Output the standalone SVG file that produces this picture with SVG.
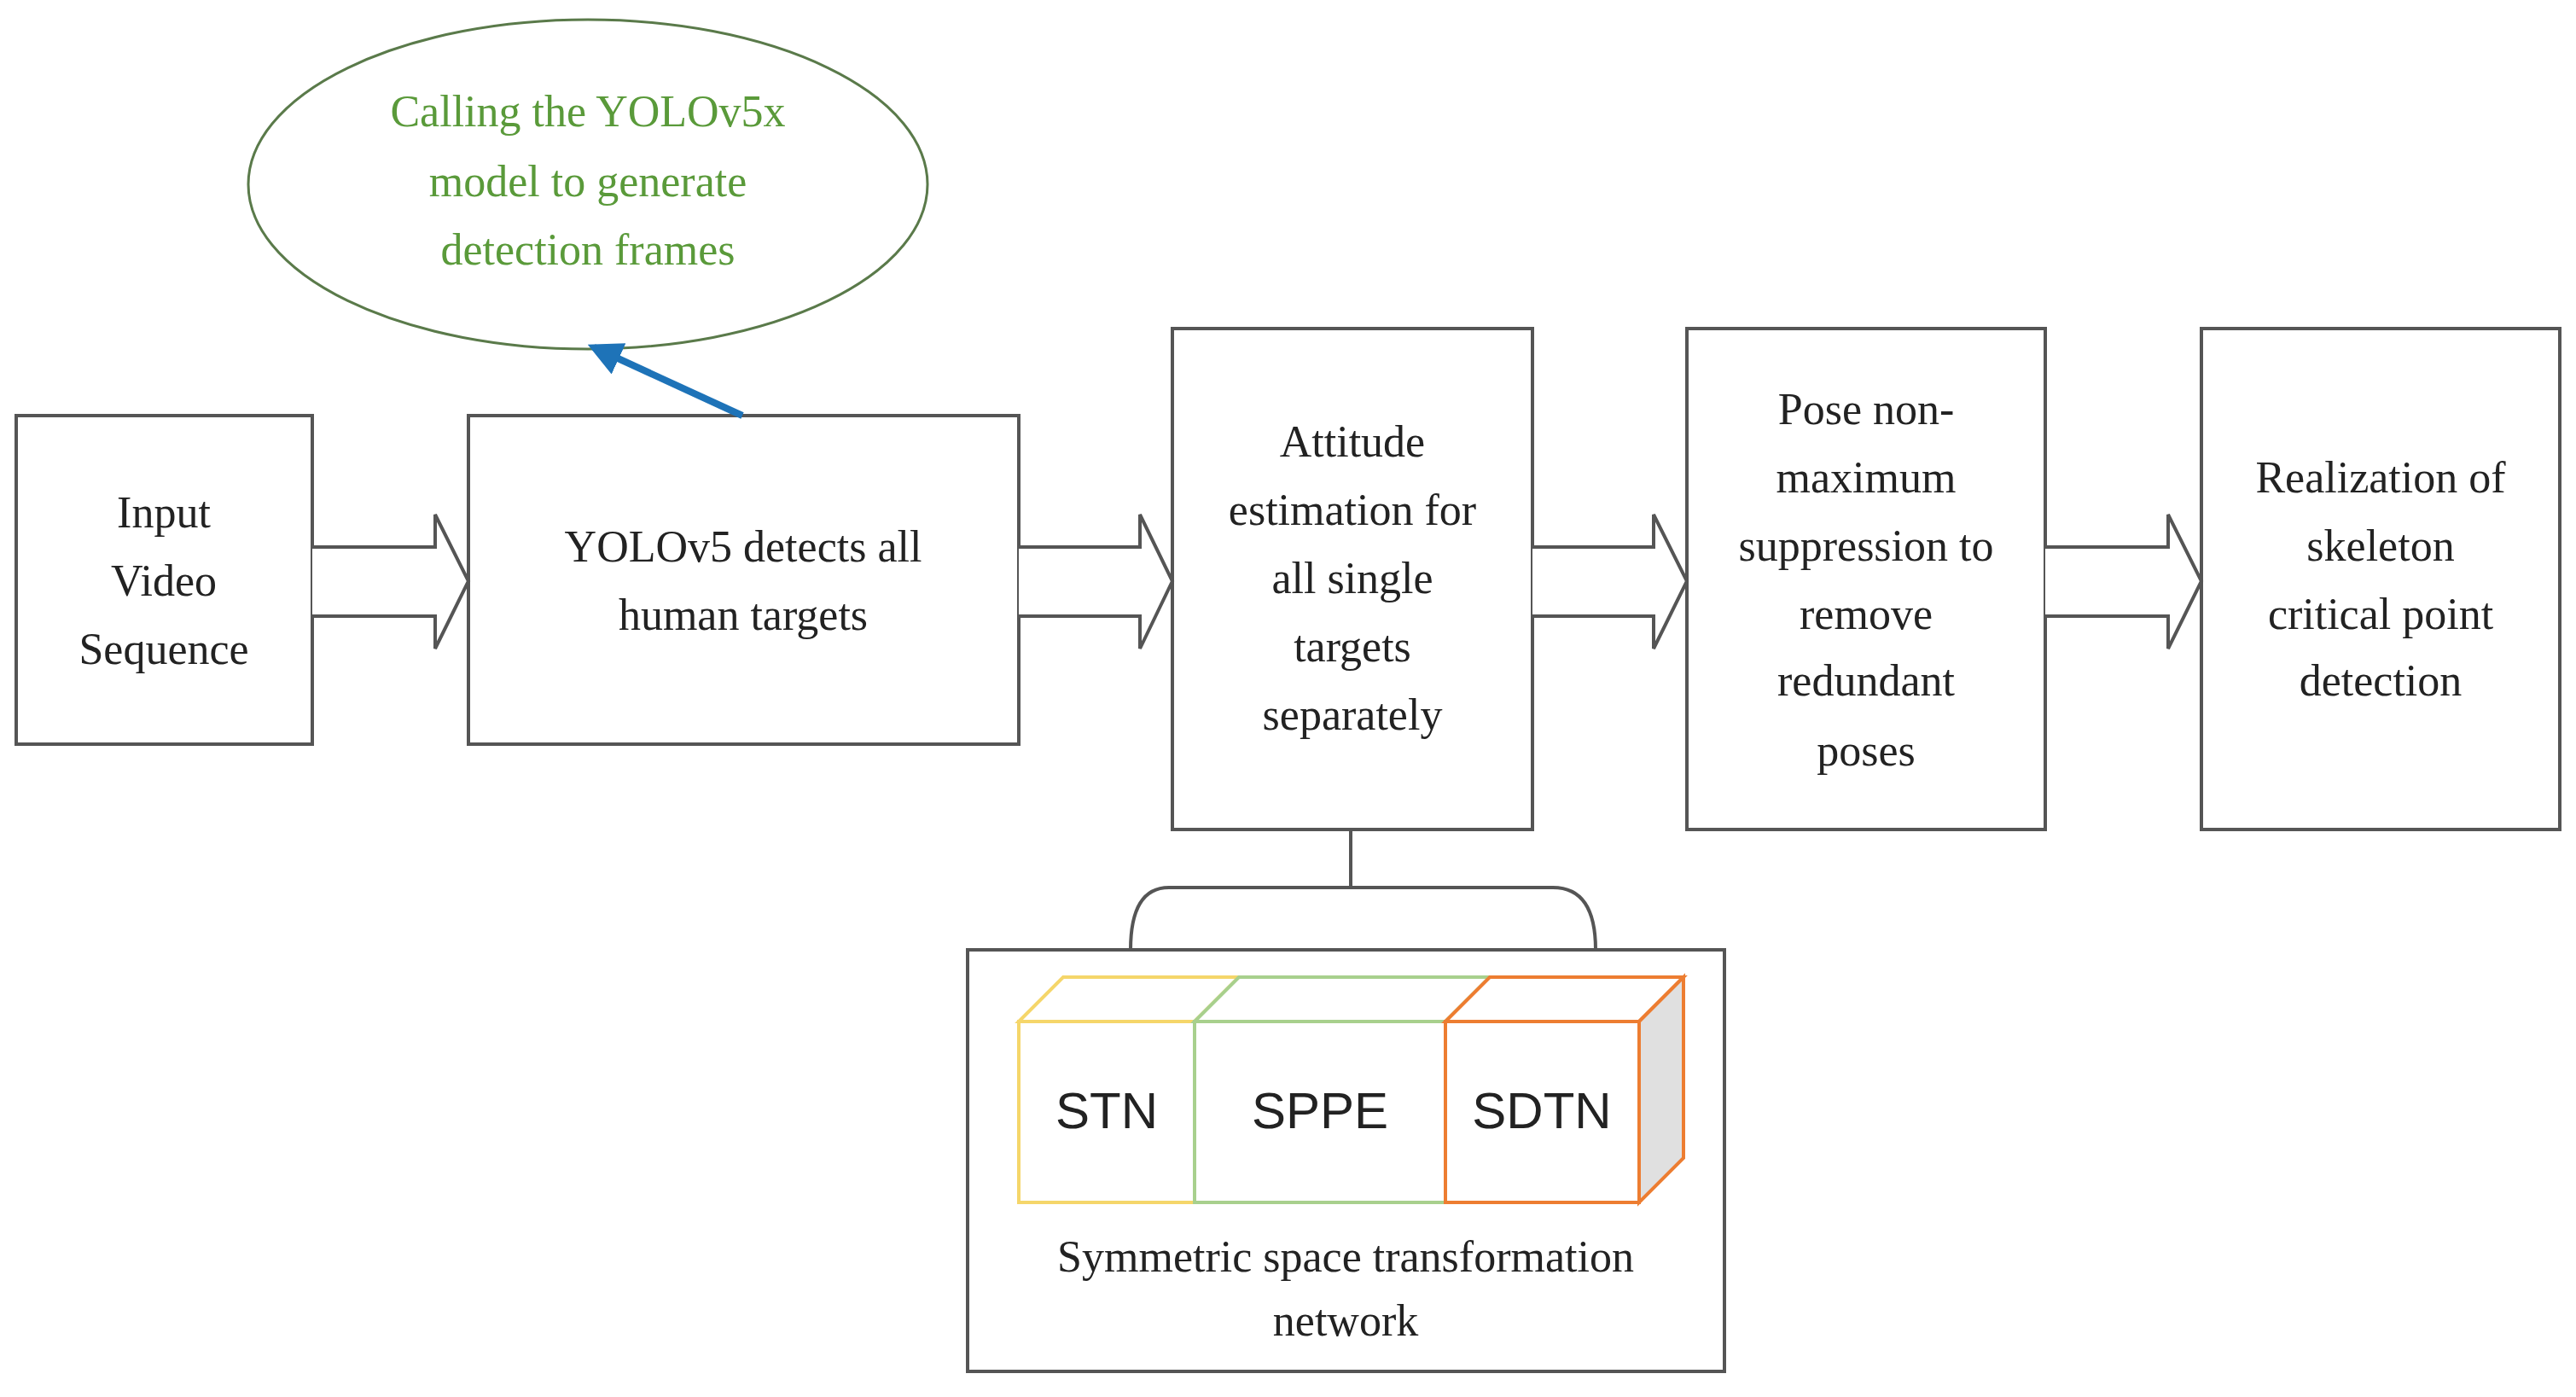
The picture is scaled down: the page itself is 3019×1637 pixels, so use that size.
<svg xmlns="http://www.w3.org/2000/svg" width="3019" height="1637" viewBox="0 0 3019 1637">
<style>
.box{fill:#fff;stroke:#555;stroke-width:4}
.t{font-family:"Liberation Serif",serif;font-size:52px;fill:#222;text-anchor:middle}
.g{font-family:"Liberation Serif",serif;font-size:52px;fill:#5a9a3a;text-anchor:middle}
.s{font-family:"Liberation Sans",sans-serif;font-size:60px;fill:#222;text-anchor:middle}
.ha{fill:#fff;stroke:#555;stroke-width:4}
</style>
<defs>
<marker id="bh" viewBox="0 0 10 10" refX="8" refY="5" markerWidth="5" markerHeight="5" orient="auto"><path d="M0,0L10,5L0,10z" fill="#1e73b8"/></marker>
</defs>
<rect width="3019" height="1637" fill="#fff"/>
<g id="ellipse"><ellipse cx="689" cy="216" rx="398" ry="193" fill="#fff" stroke="#5a7a4a" stroke-width="3"/>
<text class="g" x="689" y="148">Calling the YOLOv5x</text><text class="g" x="689" y="230">model to generate</text><text class="g" x="689" y="310">detection frames</text></g>
<g id="input"><rect class="box" x="19" y="487" width="347" height="385"/>
<text class="t" x="192" y="618">Input</text><text class="t" x="192" y="698">Video</text><text class="t" x="192" y="778">Sequence</text></g>
<g id="yolo"><rect class="box" x="549" y="487" width="645" height="385"/>
<text class="t" x="871" y="658">YOLOv5 detects all</text><text class="t" x="871" y="738">human targets</text></g>
<g id="attitude"><rect class="box" x="1374" y="385" width="422" height="587"/>
<text class="t" x="1585" y="535">Attitude</text><text class="t" x="1585" y="615">estimation for</text><text class="t" x="1585" y="695">all single</text><text class="t" x="1585" y="775">targets</text><text class="t" x="1585" y="855">separately</text></g>
<g id="pose"><rect class="box" x="1977" y="385" width="420" height="587"/>
<text class="t" x="2187" y="497">Pose non-</text><text class="t" x="2187" y="577">maximum</text><text class="t" x="2187" y="657">suppression to</text><text class="t" x="2187" y="737">remove</text><text class="t" x="2187" y="815">redundant</text><text class="t" x="2187" y="897">poses</text></g>
<g id="realization"><rect class="box" x="2580" y="385" width="420" height="587"/>
<text class="t" x="2790" y="577">Realization of</text><text class="t" x="2790" y="657">skeleton</text><text class="t" x="2790" y="737">critical point</text><text class="t" x="2790" y="815">detection</text></g>
<g id="sstn"><rect class="box" x="1134" y="1113" width="887" height="494"/>
<polygon points="1194,1197 1246,1145 1452,1145 1400,1197" fill="#fff" stroke="#f5d66a" stroke-width="4"/>
<rect x="1194" y="1197" width="206" height="212" fill="#fff" stroke="#f5d66a" stroke-width="4"/>
<polygon points="1400,1197 1452,1145 1746,1145 1694,1197" fill="#fff" stroke="#a8d08d" stroke-width="4"/>
<rect x="1400" y="1197" width="294" height="212" fill="#fff" stroke="#a8d08d" stroke-width="4"/>
<polygon points="1694,1197 1746,1145 1973,1145 1921,1197" fill="#fff" stroke="#ed7d31" stroke-width="4"/>
<polygon points="1921,1197 1973,1145 1973,1357 1921,1409" fill="#e0e0e0" stroke="#ed7d31" stroke-width="4"/>
<rect x="1694" y="1197" width="227" height="212" fill="#fff" stroke="#ed7d31" stroke-width="4"/>
<text class="s" x="1297" y="1322">STN</text><text class="s" x="1547" y="1322">SPPE</text><text class="s" x="1807" y="1322">SDTN</text>
<text class="t" x="1577" y="1490">Symmetric space transformation</text><text class="t" x="1577" y="1565">network</text></g>
<g id="connectors">
<line x1="870" y1="487" x2="696" y2="407" stroke="#1e73b8" stroke-width="8" marker-end="url(#bh)"/>
<path class="ha" d="M366,641H510V603L549,681L510,760V722H366"/>
<path class="ha" d="M1194,641H1336V603L1374,681L1336,760V722H1194"/>
<path class="ha" d="M1796,641H1938V603L1977,681L1938,760V722H1796"/>
<path class="ha" d="M2397,641H2541V603L2580,681L2541,760V722H2397"/>
<path d="M1583,972V1040H1370Q1325,1040 1325,1113M1583,1040H1820Q1870,1040 1870,1113" fill="none" stroke="#555" stroke-width="4"/>
</g>
</svg>
